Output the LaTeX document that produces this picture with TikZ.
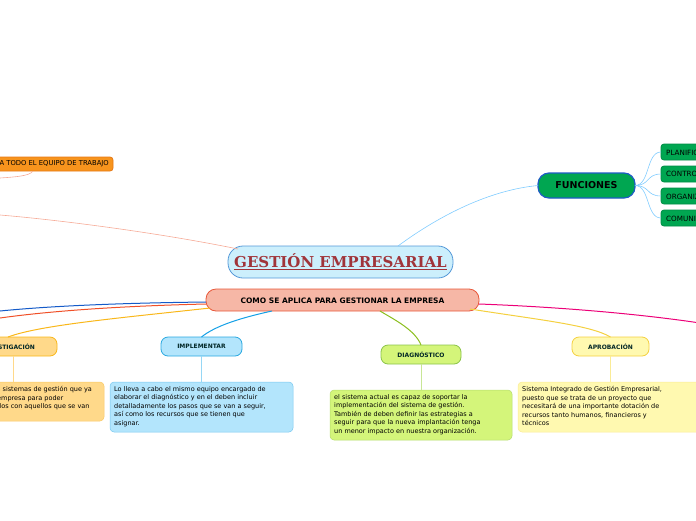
\documentclass[tikz,border=0pt]{standalone}
\usepackage{fontspec}
\setmainfont{DejaVu Sans}
\newfontfamily\titlefont{DejaVu Serif}
\begin{document}
\begin{tikzpicture}[x=1pt,y=-1pt,
  box/.style={draw,rounded corners=7pt,line width=0.8pt,inner sep=0pt},
  lbl/.style={font=\fontsize{6.5}{8}\selectfont\bfseries,text=black},
  sub/.style={font=\fontsize{6}{8}\selectfont\bfseries,text=black!70!teal},
  txt/.style={font=\fontsize{6.5}{8.6}\selectfont,align=left,anchor=north west,inner sep=0pt},
  con/.style={line width=0.7pt}]
\useasboundingbox (0,0) rectangle (696,520);
\clip (0,0) rectangle (696,520);
% main
\draw[box,fill=cyan!20,draw=cyan!60!blue!70,rounded corners=15pt] (228,246) rectangle (453,278);
\node (main) at (340.5,262) {\titlefont\fontsize{15}{16}\selectfont\bfseries\color[HTML]{A0343A}\underline{GESTIÓN EMPRESARIAL}};
\coordinate (mainN) at (398,246); \coordinate (mainW) at (238,249);
% como
\draw[box,fill={rgb,255:red,246;green,183;blue,166},draw={rgb,255:red,232;green,88;blue,58},rounded corners=10pt] (206,289) rectangle (479,311);
\node[lbl,font=\fontsize{7.5}{8}\selectfont\bfseries] (como) at (342.5,300.5) {COMO SE APLICA PARA GESTIONAR LA EMPRESA};
% funciones
\draw[box,fill={rgb,255:red,0;green,166;blue,81},draw={rgb,255:red,30;green,91;blue,198},rounded corners=11pt,line width=1.2pt] (538,173) rectangle (635,198);
\node[font=\fontsize{9.5}{10}\selectfont\bfseries] (fun) at (586.5,185.5) {FUNCIONES};
\foreach \y/\t/\n in {144/PLANIFICACIÓN/f1,166/CONTROL/f2,188/ORGANIZACIÓN/f3,210/COMUNICACIÓN/f4}{
  \draw[box,rounded corners=3pt,fill={rgb,255:red,0;green,166;blue,81},draw={rgb,255:red,0;green,140;blue,70}] (661,\y) rectangle (720,\y+16);
  \node[anchor=west,font=\fontsize{7.2}{8}\selectfont,inner sep=0pt] (\n) at (666,\y+8) {\t};
  \draw[con,draw=blue!40!cyan!50,line width=0.6pt] (635,185.5) .. controls (650,185.5) and (646,\y+8) .. (661,\y+8);
}
\draw[con,draw=blue!40!cyan!50,line width=0.6pt] (mainN) .. controls (440,215) and (490,190) .. (538,185.5);
% orange node
\draw[box,rounded corners=3pt,fill={rgb,255:red,247;green,148;blue,29},draw={rgb,255:red,230;green,120;blue,20}] (-60,157) rectangle (113,171);
\node[anchor=east,font=\fontsize{6.8}{8}\selectfont,inner sep=0pt] (org) at (109,164) {INVOLUCRAR A TODO EL EQUIPO DE TRABAJO};
\draw[con,draw={rgb,255:red,246;green,170;blue,150},line width=0.6pt] (33,171) .. controls (30,176) and (15,177) .. (0,178);
\draw[con,draw={rgb,255:red,246;green,170;blue,150},line width=0.6pt] (mainW) .. controls (160,233) and (60,220) .. (0,215);
% left lines
\draw[con,draw={rgb,255:red,20;green,90;blue,200},line width=1pt] (206,302) .. controls (120,303) and (50,306) .. (0,311);
\draw[con,draw={rgb,255:red,240;green,80;blue,40},line width=1pt] (206,304) .. controls (120,306) and (50,311) .. (0,318);
\draw[con,draw={rgb,255:red,236;green,0;blue,120},line width=1pt] (479,304) .. controls (560,307) and (640,314) .. (700,323);
% second-level nodes
\draw[box,fill={rgb,255:red,255;green,217;blue,138},draw={rgb,255:red,249;green,183;blue,26}] (-40,337) rectangle (57,356);
\node[sub] (inv) at (8.5,346.5) {INVESTIGACIÓN};
\draw[box,fill={rgb,255:red,179;green,229;blue,252},draw={rgb,255:red,41;green,168;blue,224}] (161,337) rectangle (242,356);
\node[sub] (imp) at (201.5,346.5) {IMPLEMENTAR};
\draw[box,fill={rgb,255:red,212;green,245;blue,122},draw={rgb,255:red,139;green,195;blue,74}] (381,345) rectangle (461,364);
\node[sub] (dia) at (421,354.5) {DIAGNÓSTICO};
\draw[box,fill={rgb,255:red,255;green,249;blue,176},draw={rgb,255:red,244;green,208;blue,63}] (572,337) rectangle (649,356);
\node[sub] (apr) at (610.5,346.5) {APROBACIÓN};
\draw[con,draw={rgb,255:red,249;green,183;blue,26},line width=1pt] (210,308) .. controls (120,318) and (40,325) .. (8,337);
\draw[con,draw={rgb,255:red,20;green,160;blue,230},line width=1pt] (272,311) .. controls (240,318) and (215,326) .. (201.5,337);
\draw[con,draw={rgb,255:red,139;green,190;blue,30},line width=1pt] (380,311) .. controls (395,320) and (415,330) .. (421,345);
\draw[con,draw={rgb,255:red,244;green,208;blue,63},line width=1pt] (470,309) .. controls (540,320) and (590,325) .. (610.5,337);
% text boxes
\draw[box,rounded corners=4pt,line width=0.5pt,fill={rgb,255:red,255;green,217;blue,138},draw={rgb,255:red,249;green,200;blue,100}] (-40,382) rectangle (104,421);
\node[txt] (invt) at (-3,386) {s sistemas de gestión que ya\\empresa para poder\\dos con aquellos que se van\\.};
\draw[box,rounded corners=4pt,line width=0.5pt,fill={rgb,255:red,179;green,229;blue,252},draw={rgb,255:red,120;green,200;blue,240}] (110,382) rectangle (293,432);
\node[txt] (impt) at (114,386) {Lo lleva a cabo el mismo equipo encargado de\\elaborar el diagnóstico y en el deben incluir\\detalladamente los pasos que se van a seguir,\\así como los recursos que se tienen que\\asignar.};
\draw[box,rounded corners=4pt,line width=0.5pt,fill={rgb,255:red,212;green,245;blue,122},draw={rgb,255:red,180;green,220;blue,110}] (330,390) rectangle (512,440);
\node[txt] (diat) at (334,394) {el sistema actual es capaz de soportar la\\implementación del sistema de gestión.\\También de deben definir las estrategias a\\seguir para que la nueva implantación tenga\\un menor impacto en nuestra organización.};
\draw[box,rounded corners=4pt,line width=0.5pt,fill={rgb,255:red,255;green,249;blue,176},draw={rgb,255:red,250;green,235;blue,150}] (518,382) rectangle (710,432);
\node[txt] (aprt) at (522,386) {Sistema Integrado de Gestión Empresarial,\\puesto que se trata de un proyecto que\\necesitará de una importante dotación de\\recursos tanto humanos, financieros y\\técnicos};
\draw[draw={rgb,255:red,255;green,217;blue,138},line width=1pt] (13,356) -- (13,382);
\draw[draw={rgb,255:red,150;green,215;blue,245},line width=1pt] (201.5,356) -- (201.5,382);
\draw[draw={rgb,255:red,200;green,230;blue,150},line width=1pt] (421,364) -- (421,390);
\draw[draw={rgb,255:red,250;green,235;blue,150},line width=1pt] (610.5,356) -- (610.5,382);
\end{tikzpicture}
\end{document}
